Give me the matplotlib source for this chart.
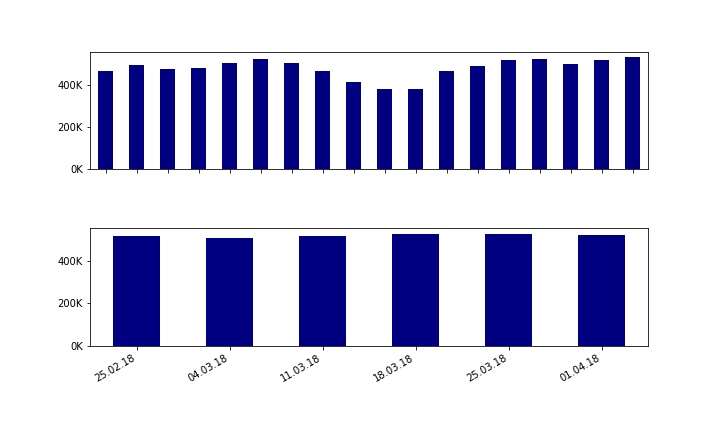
import matplotlib
matplotlib.use("Agg")
import matplotlib.pyplot as plt
from matplotlib.ticker import FuncFormatter

# top panel: daily values (tick labels hidden by autofmt_xdate)
daily_labels = ["15.03.18", "16.03.18", "17.03.18", "18.03.18", "19.03.18", "20.03.18",
                "21.03.18", "22.03.18", "23.03.18", "24.03.18", "25.03.18", "26.03.18",
                "27.03.18", "28.03.18", "29.03.18", "30.03.18", "31.03.18", "01.04.18"]
daily_values = [463000, 491000, 472000, 477000, 501000, 520000, 501000, 463000, 411000,
                378000, 378000, 463000, 487000, 515000, 520000, 496000, 515000, 529000]

# bottom panel: weekly values
weekly_labels = ["25.02.18", "04.03.18", "11.03.18", "18.03.18", "25.03.18", "01.04.18"]
weekly_values = [521000, 512000, 521000, 531000, 531000, 526000]

bar_color = "#000080"
kfmt = FuncFormatter(lambda v, pos: "%dK" % (v / 1000))

fig, (ax1, ax2) = plt.subplots(2, 1, figsize=(10, 6), dpi=72)

ax1.bar(range(len(daily_values)), daily_values, width=0.5, color=bar_color)
ax1.set_xticks(range(len(daily_labels)))
ax1.set_xticklabels(daily_labels)
ax1.set_xlim(-0.5, len(daily_values) - 0.5)
ax1.set_yticks([0, 200000, 400000])
ax1.yaxis.set_major_formatter(kfmt)

ax2.bar(range(len(weekly_values)), weekly_values, width=0.5, color=bar_color)
ax2.set_xticks(range(len(weekly_labels)))
ax2.set_xticklabels(weekly_labels)
ax2.set_xlim(-0.5, len(weekly_values) - 0.5)
ax2.set_yticks([0, 200000, 400000])
ax2.yaxis.set_major_formatter(kfmt)

fig.autofmt_xdate()
plt.subplots_adjust(left=0.125, right=0.9, top=0.88, bottom=0.2, hspace=0.5)
plt.savefig("out.png", dpi=72)
